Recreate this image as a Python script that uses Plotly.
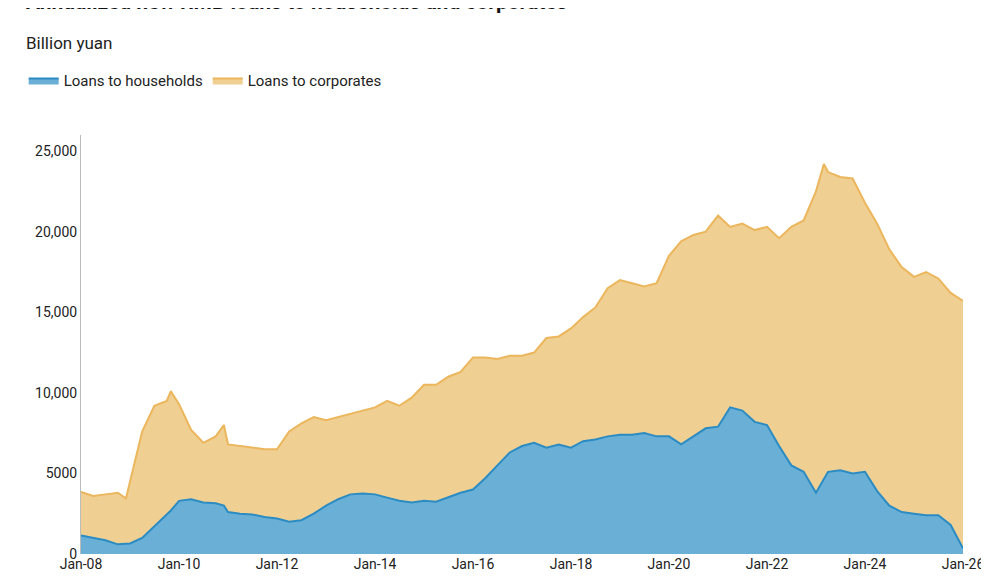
import plotly.graph_objects as go

dates = [
    "2008-01", "2008-04", "2008-07", "2008-10", "2008-12", "2009-01", "2009-04", "2009-07", "2009-10", "2009-11",
    "2010-01", "2010-04", "2010-07", "2010-10", "2010-12", "2011-01", "2011-04", "2011-07", "2011-10",
    "2012-01", "2012-04", "2012-07", "2012-10", "2013-01", "2013-04", "2013-07", "2013-10",
    "2014-01", "2014-04", "2014-07", "2014-10", "2015-01", "2015-04", "2015-07", "2015-10",
    "2016-01", "2016-04", "2016-07", "2016-10", "2017-01", "2017-04", "2017-07", "2017-10",
    "2018-01", "2018-04", "2018-07", "2018-10", "2019-01", "2019-04", "2019-07", "2019-10",
    "2020-01", "2020-04", "2020-07", "2020-10", "2021-01", "2021-04", "2021-07", "2021-10",
    "2022-01", "2022-04", "2022-07", "2022-10", "2023-01", "2023-03", "2023-04", "2023-07", "2023-10",
    "2024-01", "2024-04", "2024-07", "2024-10", "2025-01", "2025-04", "2025-07", "2025-10", "2026-01",
]

households = [
    1150, 1000, 850, 600, 620, 650, 1000, 1700, 2400, 2700,
    3300, 3400, 3200, 3150, 3000, 2600, 2500, 2450, 2300,
    2200, 2000, 2100, 2500, 3000, 3400, 3700, 3750,
    3700, 3500, 3300, 3200, 3300, 3250, 3500, 3800,
    4000, 4700, 5500, 6300, 6700, 6900, 6600, 6800,
    6600, 7000, 7100, 7300, 7400, 7400, 7500, 7300,
    7300, 6800, 7300, 7800, 7900, 9100, 8900, 8200,
    8000, 6700, 5500, 5100, 3800, 4700, 5100, 5200, 5000,
    5100, 3900, 3000, 2600, 2500, 2400, 2400, 1800, 350,
]

totals = [
    3850, 3600, 3700, 3800, 3450, 4500, 7600, 9200, 9500, 10100,
    9300, 7700, 6900, 7300, 8000, 6800, 6700, 6600, 6500,
    6500, 7600, 8100, 8500, 8300, 8500, 8700, 8900,
    9100, 9500, 9200, 9700, 10500, 10500, 11000, 11300,
    12200, 12200, 12100, 12300, 12300, 12500, 13400, 13500,
    14000, 14700, 15300, 16500, 17000, 16800, 16600, 16800,
    18500, 19400, 19800, 20000, 21000, 20300, 20500, 20100,
    20300, 19600, 20300, 20700, 22500, 24200, 23700, 23400, 23300,
    21800, 20500, 18900, 17800, 17200, 17500, 17100, 16200, 15700,
]

corporates = [t - h for t, h in zip(totals, households)]

x_ticks = ["2008-01", "2010-01", "2012-01", "2014-01", "2016-01", "2018-01", "2020-01", "2022-01", "2024-01", "2026-01"]
y_ticks = [0, 5000, 10000, 15000, 20000, 25000]
y_labels = ["0", "5000", "10,000", "15,000", "20,000", "25,000"]

fig = go.Figure()
fig.add_trace(go.Scatter(x=dates, y=households, name="Loans to households", stackgroup="one",
                         mode="lines", line=dict(color="#2b8cc4", width=2), fillcolor="#6aafd6"))
fig.add_trace(go.Scatter(x=dates, y=corporates, name="Loans to corporates", stackgroup="one",
                         mode="lines", line=dict(color="#ebb65c", width=2), fillcolor="#f0cf93"))

fig.update_layout(
    width=989, height=577,
    margin=dict(l=73, r=34, t=127, b=31),
    plot_bgcolor="white", paper_bgcolor="white",
    font=dict(family="Roboto", size=14, color="#222"),
    showlegend=True,
    legend=dict(orientation="h", x=-0.065, xanchor="left", y=1.09, yanchor="bottom",
                font=dict(size=15), itemwidth=30, traceorder="normal"),
    annotations=[
        dict(text="FIGURE 2", x=20, y=10, xref="paper", yref="paper", showarrow=False),
        dict(text="Annualized new RMB loans to households and corporates", x=-0.065, y=1.285, xref="paper",
             yref="paper", xanchor="left", yanchor="bottom", showarrow=False,
             font=dict(size=21, color="#111", family="Roboto", weight="bold")),
        dict(text="FIGURE 2", x=-0.065, y=1.345, xref="paper", yref="paper", xanchor="left",
             yanchor="bottom", showarrow=False, font=dict(size=14, color="#333")),
        dict(text="Billion yuan", x=-0.065, y=1.19, xref="paper", yref="paper", xanchor="left",
             yanchor="bottom", showarrow=False, font=dict(size=17, color="#222")),
    ],
)
fig.layout.annotations = fig.layout.annotations[1:]

fig.update_xaxes(range=["2008-01-01", "2026-01-01"], tickvals=x_ticks, tickformat="%b-%y",
                 showgrid=False, showline=False, ticks="", tickfont=dict(size=14))
fig.update_yaxes(range=[0, 26000], tickvals=y_ticks, ticktext=y_labels, showgrid=False,
                 showline=True, linecolor="#bbb", linewidth=1, ticks="", tickfont=dict(size=14))

fig.write_html("out.html")
